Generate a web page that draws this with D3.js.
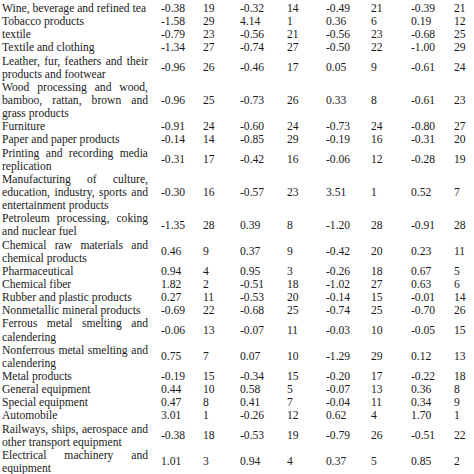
<!DOCTYPE html>
<html><head><meta charset="utf-8">
<script src="https://cdn.jsdelivr.net/npm/d3@7"></script>
<style>body{margin:0;background:#fff}text{font-family:"Liberation Serif","Times New Roman",serif;font-size:11.6px;fill:#1a1a1a}</style>
</head><body><svg id="c" width="474" height="474"></svg>
<script>
const labels = [
 ["Wine, beverage and refined tea"],["Tobacco products"],["textile"],["Textile and clothing"],
 ["Leather, fur, feathers and their","products and footwear"],
 ["Wood processing and wood,","bamboo, rattan, brown and","grass products"],
 ["Furniture"],["Paper and paper products"],["Printing and recording media","replication"],
 ["Manufacturing of culture,","education, industry, sports and","entertainment products"],
 ["Petroleum processing, coking","and nuclear fuel"],["Chemical raw materials and","chemical products"],
 ["Pharmaceutical"],["Chemical fiber"],["Rubber and plastic products"],["Nonmetallic mineral products"],
 ["Ferrous metal smelting and","calendering"],["Nonferrous metal smelting and","calendering"],
 ["Metal products"],["General equipment"],["Special equipment"],["Automobile"],
 ["Railways, ships, aerospace and","other transport equipment"],["Electrical machinery and","equipment"]
];
const score1 = ["-0.38","-1.58","-0.79","-1.34","-0.96","-0.96","-0.91","-0.14","-0.31","-0.30","-1.35","0.46","0.94","1.82","0.27","-0.69","-0.06","0.75","-0.19","0.44","0.47","3.01","-0.38","1.01"];
const rank1 = [19,29,23,27,26,25,24,14,17,16,28,9,4,2,11,22,13,7,15,10,8,1,18,3];
const score2 = ["-0.32","4.14","-0.56","-0.74","-0.46","-0.73","-0.60","-0.85","-0.42","-0.57","0.39","0.37","0.95","-0.51","-0.53","-0.68","-0.07","0.07","-0.34","0.58","0.41","-0.26","-0.53","0.94"];
const rank2 = [14,1,21,27,17,26,24,29,16,23,8,9,3,18,20,25,11,10,15,5,7,12,19,4];
const score3 = ["-0.49","0.36","-0.56","-0.50","0.05","0.33","-0.73","-0.19","-0.06","3.51","-1.20","-0.42","-0.26","-1.02","-0.14","-0.74","-0.03","-1.29","-0.20","-0.07","-0.04","0.62","-0.79","0.37"];
const rank3 = [21,6,23,22,9,8,24,16,12,1,28,20,18,27,15,25,10,29,17,13,11,4,26,5];
const score4 = ["-0.39","0.19","-0.68","-1.00","-0.61","-0.61","-0.80","-0.31","-0.28","0.52","-0.91","0.23","0.67","0.63","-0.01","-0.70","-0.05","0.12","-0.22","0.36","0.34","1.70","-0.51","0.85"];
const rank4 = [21,12,25,29,24,23,27,20,19,7,28,11,5,6,14,26,15,13,18,8,9,1,22,2];

const svg = d3.select("#c");
const totalLines = d3.sum(labels, l => l.length);
const y = d3.scaleLinear().domain([0, totalLines - 1]).range([12, 472]);
const colX = d3.scalePoint().domain(d3.range(8)).range([161, 453]);
const colPos = [161,203,240,287,326,371,411,454];
const x0 = 2, x1 = 148;
const cols = [score1, rank1, score2, rank2, score3, rank3, score4, rank4];

let line = 0;
labels.forEach((lines, i) => {
  const start = line;
  lines.forEach((txt, j) => {
    const yy = y(line);
    const last = j === lines.length - 1;
    if (lines.length > 1 && !last) {
      const words = txt.split(" ");
      const ts = words.map(w => svg.append("text").attr("y", yy).text(w));
      const widths = ts.map(t => t.node().getComputedTextLength());
      const gap = (x1 - x0 - d3.sum(widths)) / (words.length - 1);
      let cx = x0;
      ts.forEach((t, k) => { t.attr("x", cx); cx += widths[k] + gap; });
    } else {
      svg.append("text").attr("x", x0).attr("y", yy).text(txt);
    }
    line++;
  });
  const mid = (y(start) + y(line - 1)) / 2;
  cols.forEach((c, k) => {
    svg.append("text").attr("x", colPos[k]).attr("y", mid).text(c[i]);
  });
});
</script></body></html>
